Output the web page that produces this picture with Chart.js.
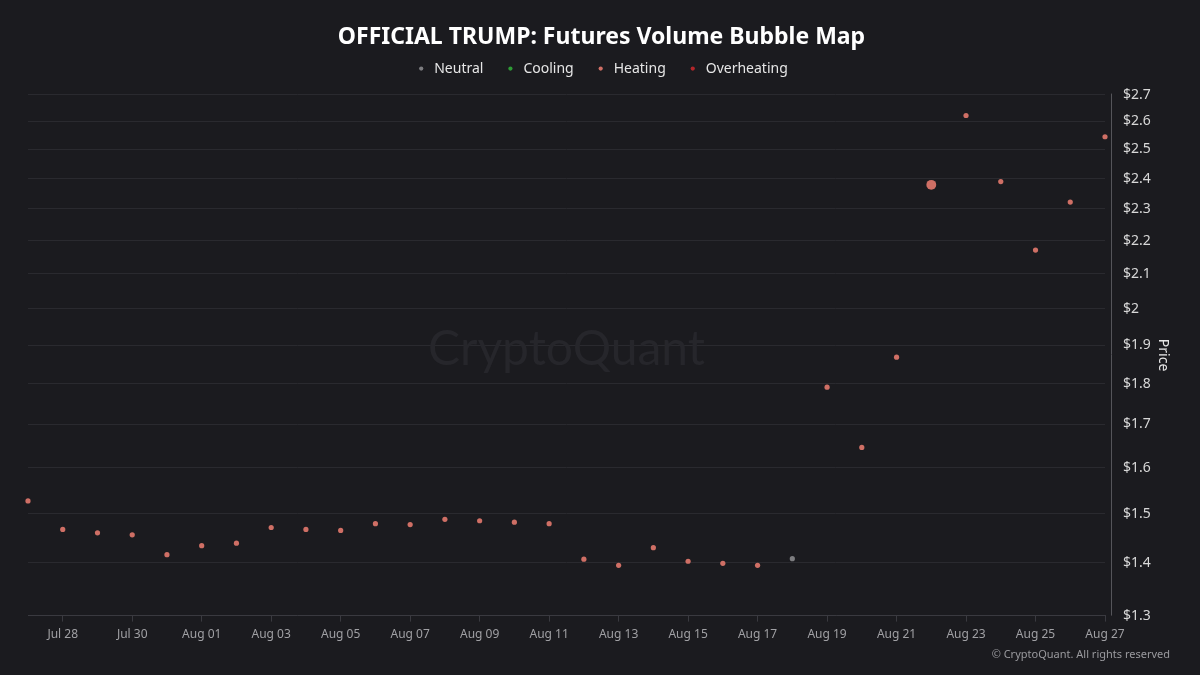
<!DOCTYPE html>
<html>
<head>
<meta charset="utf-8">
<script src="https://cdn.jsdelivr.net/npm/chart.js@4.4.1/dist/chart.umd.min.js"></script>
<style>
  html, body { margin: 0; padding: 0; background: #1b1b1f; }
  #wrap { width: 1200px; height: 675px; position: relative; }
</style>
</head>
<body>
<div id="wrap"><canvas id="chart_bubble" width="1200" height="675"></canvas></div>
<script>
// daily points, Jul 27 -> Aug 27
const dates = [
  "Jul 27", "Jul 28", "Jul 29", "Jul 30", "Jul 31",
  "Aug 01", "Aug 02", "Aug 03", "Aug 04", "Aug 05", "Aug 06", "Aug 07", "Aug 08",
  "Aug 09", "Aug 10", "Aug 11", "Aug 12", "Aug 13", "Aug 14", "Aug 15", "Aug 16",
  "Aug 17", "Aug 18", "Aug 19", "Aug 20", "Aug 21", "Aug 22", "Aug 23", "Aug 24",
  "Aug 25", "Aug 26", "Aug 27"
];
const prices = [
  1.527, 1.467, 1.460, 1.456, 1.416,
  1.434, 1.439, 1.471, 1.467, 1.465, 1.479, 1.477, 1.488,
  1.485, 1.482, 1.479, 1.407, 1.395, 1.430, 1.403, 1.399,
  1.395, 1.408, 1.791, 1.646, 1.868, 2.379, 2.622, 2.390,
  2.171, 2.322, 2.545
];
// relative futures volume (bubble size)
const volume = [
  1, 1, 1, 1, 1,
  1, 1, 1, 1, 1, 1, 1, 1,
  1, 1, 1, 1, 1, 1, 1, 1,
  1, 1, 1, 1, 1, 1.9, 1, 1,
  1, 1, 1
];
const status = dates.map((d) => (d == "Aug 18" ? "Neutral" : "Heating"));

const statusNames = ["Neutral", "Cooling", "Heating", "Overheating"];
const statusColors = ["#7d7d80", "#2e9a35", "#cf6f65", "#b3262a"];
const yTicks = [1.3, 1.4, 1.5, 1.6, 1.7, 1.8, 1.9, 2, 2.1, 2.2, 2.3, 2.4, 2.5, 2.6, 2.7];

const datasets = statusNames.map((name, i) => {
  const pts = [];
  dates.forEach((d, j) => {
    if (status[j] == name) pts.push({ x: j, y: prices[j], v: volume[j] });
  });
  return {
    label: name,
    data: pts,
    backgroundColor: statusColors[i],
    borderColor: statusColors[i],
    borderWidth: 0,
    radius: (ctx) => (ctx.raw ? 2.6 * ctx.raw.v : 2.6),
    hoverRadius: 0,
    clip: false,
  };
});

// empty box between legend and plot, keeps a gap under the legend
const legendGap = {
  id: "legendGap",
  beforeInit(chart) {
    Chart.layouts.addBox(chart, {
      position: "top",
      weight: 0,
      fullSize: true,
      options: {},
      isHorizontal: () => true,
      update(maxWidth) {
        this.width = maxWidth;
        this.height = 9;
      },
      draw() {},
    });
  },
};

// watermark + copyright + y axis line
const decorations = {
  id: "decorations",
  beforeDatasetsDraw(chart) {
    const { ctx, chartArea } = chart;
    ctx.save();
    ctx.font = "48px 'Lato', sans-serif";
    ctx.fillStyle = "#26262b";
    ctx.textAlign = "center";
    ctx.textBaseline = "middle";
    ctx.fillText("CryptoQuant", (chartArea.left + chartArea.right) / 2, (chartArea.top + chartArea.bottom) / 2 - 6);
    ctx.restore();
  },
  afterDraw(chart) {
    const { ctx, chartArea } = chart;
    ctx.save();
    ctx.strokeStyle = "#55555a";
    ctx.lineWidth = 1;
    ctx.beginPath();
    ctx.moveTo(chartArea.right + 6.5, chartArea.top - 1);
    ctx.lineTo(chartArea.right + 6.5, chartArea.bottom);
    ctx.stroke();
    ctx.font = "11px 'Noto Sans', sans-serif";
    ctx.fillStyle = "#9a9a9e";
    ctx.textAlign = "right";
    ctx.textBaseline = "middle";
    ctx.fillText("\u00a9 CryptoQuant. All rights reserved", 1170, 655);
    ctx.restore();
  },
};

const chart_bubble_object = new Chart(document.getElementById("chart_bubble").getContext("2d"), {
  type: "bubble",
  data: { datasets: datasets },
  options: {
    responsive: false,
    animation: false,
    layout: { padding: { left: 28, right: 25, bottom: 27, top: 0 } },
    plugins: {
      title: {
        display: true,
        text: "OFFICIAL TRUMP: Futures Volume Bubble Map",
        color: "#ffffff",
        font: { family: "'Noto Sans', sans-serif", size: 23, weight: "bold" },
        padding: { top: 24, bottom: -11 },
      },
      legend: {
        display: true,
        labels: {
          usePointStyle: true,
          pointStyle: "circle",
          boxWidth: 12,
          boxHeight: 3,
          padding: 21,
          color: "#e6e6e6",
          font: { family: "'Noto Sans', sans-serif", size: 14 },
        },
      },
      tooltip: { enabled: false },
    },
    scales: {
      x: {
        type: "linear",
        min: 0,
        max: dates.length - 1,
        afterBuildTicks: (scale) => {
          scale.ticks = dates.map((d, i) => ({ value: i })).filter((t) => t.value % 2 == 1);
        },
        ticks: {
          callback: (value) => dates[value],
          color: "#a0a0a4",
          font: { family: "'Noto Sans', sans-serif", size: 12 },
          maxRotation: 0,
          autoSkip: false,
          padding: 6,
        },
        grid: { drawOnChartArea: false, color: "#3a3a40", tickLength: 6 },
        border: { color: "#3a3a40" },
      },
      y: {
        type: "logarithmic",
        position: "right",
        min: 1.3,
        max: 2.7,
        afterBuildTicks: (scale) => {
          scale.ticks = yTicks.map((v) => ({ value: v }));
        },
        afterFit: (scale) => {
          scale.width = 70;
        },
        ticks: {
          callback: (value) => "$" + value,
          color: "#d8d8d8",
          font: { family: "'Noto Sans', sans-serif", size: 14 },
          padding: 18,
          autoSkip: false,
        },
        grid: { color: "#2a2a2f", drawTicks: false },
        border: { display: false },
        title: {
          display: true,
          text: "Price",
          color: "#e6e6e6",
          font: { family: "'Noto Sans', sans-serif", size: 14 },
          padding: { top: 4, bottom: 0 },
        },
      },
    },
  },
  plugins: [legendGap, decorations],
});
</script>
</body>
</html>
